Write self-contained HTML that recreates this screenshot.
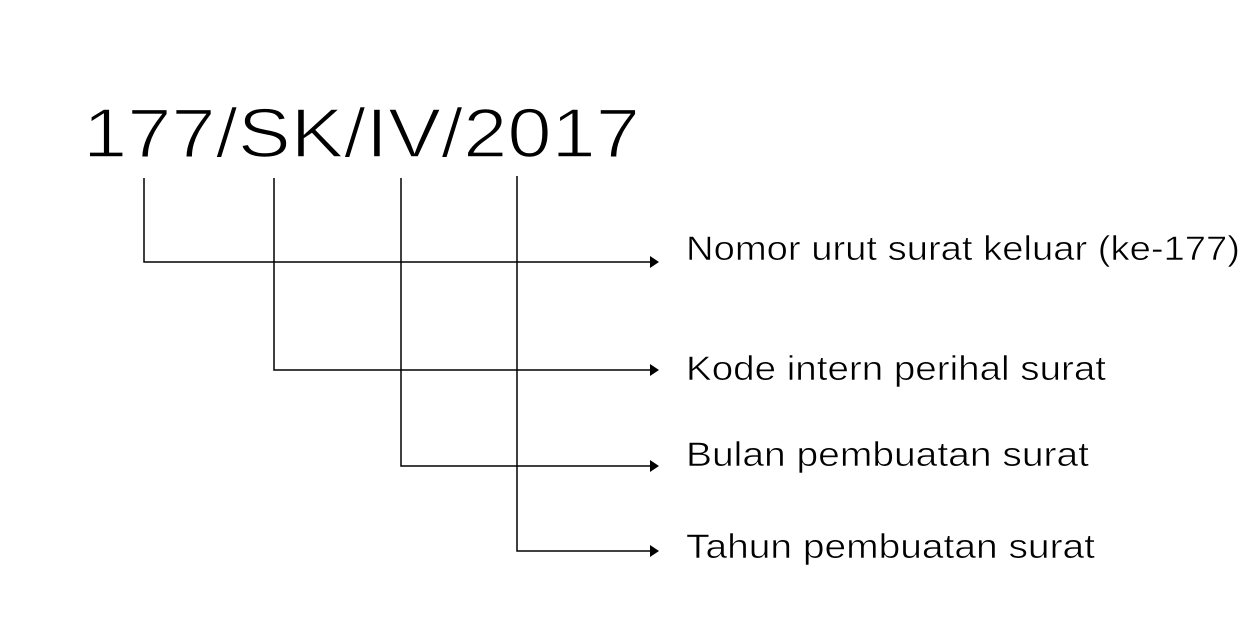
<!DOCTYPE html>
<html><head><meta charset="utf-8"><style>html,body{margin:0;padding:0;background:#fff}</style></head>
<body>
<svg width="1250" height="625" viewBox="0 0 1250 625" xmlns="http://www.w3.org/2000/svg">
<rect width="1250" height="625" fill="#fff"/>
<text x="83" y="157" font-family="Liberation Sans, sans-serif" font-size="70" fill="#000" stroke="#fff" stroke-width="1.6" paint-order="stroke" textLength="557" lengthAdjust="spacingAndGlyphs" style="paint-order:normal">177/SK/IV/2017</text>
<g stroke="#000" stroke-width="1.5" fill="none">
<path d="M144 178 V262 H652"/>
<path d="M274 178 V370 H652"/>
<path d="M401 178 V466 H652"/>
<path d="M517 176 V551 H652"/>
</g>
<g fill="#000">
<polygon points="650,256 659,262 650,268"/>
<polygon points="650,364 659,370 650,376"/>
<polygon points="650,460 659,466 650,472"/>
<polygon points="650,545 659,551 650,557"/>
</g>
<g font-family="Liberation Sans, sans-serif" font-size="34" fill="#000" stroke="#fff" stroke-width="0.6">
<text x="686" y="260" textLength="554" lengthAdjust="spacingAndGlyphs">Nomor urut surat keluar (ke-177)</text>
<text x="686" y="380" textLength="420" lengthAdjust="spacingAndGlyphs">Kode intern perihal surat</text>
<text x="686" y="466" textLength="403" lengthAdjust="spacingAndGlyphs">Bulan pembuatan surat</text>
<text x="686" y="558" textLength="409" lengthAdjust="spacingAndGlyphs">Tahun pembuatan surat</text>
</g>
</svg>
</body></html>
